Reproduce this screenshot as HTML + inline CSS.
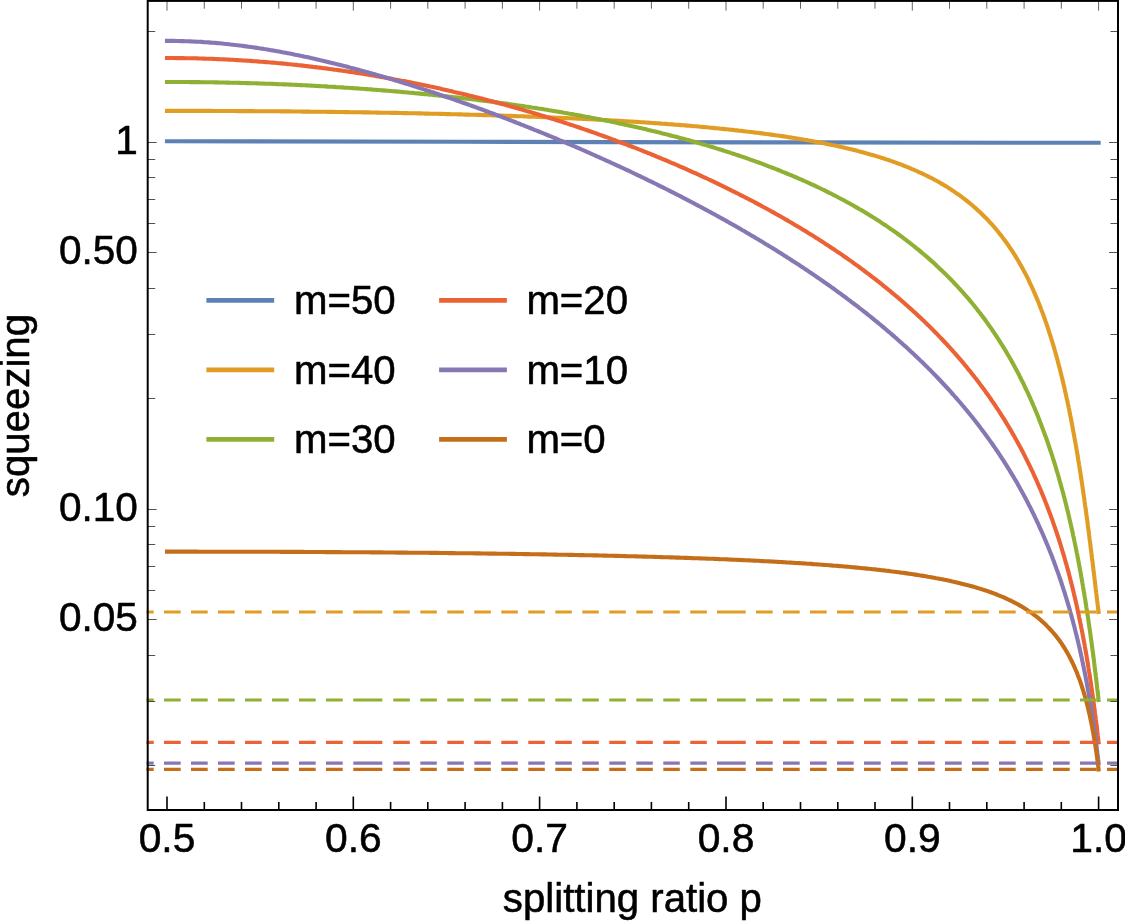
<!DOCTYPE html>
<html lang="en"><head><meta charset="utf-8"><title>squeezing vs splitting ratio p</title>
<style>html,body{margin:0;padding:0;background:#fff;overflow:hidden}svg{display:block}</style></head>
<body>
<svg width="1125" height="921" viewBox="0 0 1125 921">
<rect width="1125" height="921" fill="#fff"/>
<path d="M167.0,141.2 L460.0,141.7 L610.0,142.1 L800.0,142.4 L1098.6,142.8" stroke="#5E81B5" stroke-width="4.1" fill="none" stroke-linejoin="round" stroke-linecap="square"/>
<path d="M167.0,110.9 L169.3,110.9 L171.7,110.9 L174.0,110.9 L176.3,110.9 L178.6,110.9 L180.9,110.9 L183.2,110.9 L185.5,110.9 L187.8,110.9 L190.1,110.9 L192.4,110.9 L194.7,110.9 L197.0,110.9 L199.3,110.9 L201.6,110.9 L203.8,110.9 L206.1,110.9 L208.4,110.9 L210.6,110.9 L212.9,111.0 L215.2,111.0 L217.4,111.0 L219.7,111.0 L221.9,111.0 L224.2,111.0 L226.4,111.0 L228.6,111.0 L230.9,111.0 L233.1,111.0 L235.3,111.0 L237.5,111.1 L239.8,111.1 L242.0,111.1 L244.2,111.1 L246.4,111.1 L248.6,111.1 L250.8,111.1 L253.0,111.1 L255.2,111.2 L257.4,111.2 L259.6,111.2 L261.8,111.2 L264.0,111.2 L266.1,111.2 L268.3,111.3 L270.5,111.3 L272.7,111.3 L274.8,111.3 L277.0,111.3 L279.1,111.3 L281.3,111.4 L283.5,111.4 L285.6,111.4 L287.7,111.4 L289.9,111.4 L292.0,111.5 L294.2,111.5 L296.3,111.5 L298.4,111.5 L300.5,111.5 L302.7,111.6 L304.8,111.6 L306.9,111.6 L309.0,111.6 L311.1,111.7 L313.2,111.7 L315.3,111.7 L317.4,111.7 L319.5,111.8 L321.6,111.8 L323.7,111.8 L325.8,111.8 L327.9,111.9 L329.9,111.9 L332.0,111.9 L334.1,111.9 L336.2,112.0 L338.2,112.0 L340.3,112.0 L342.3,112.0 L344.4,112.1 L346.4,112.1 L348.5,112.1 L350.5,112.2 L352.6,112.2 L354.6,112.2 L356.6,112.3 L358.7,112.3 L360.7,112.3 L362.7,112.4 L364.7,112.4 L366.8,112.4 L368.8,112.4 L370.8,112.5 L372.8,112.5 L374.8,112.5 L376.8,112.6 L379.3,112.6 L381.8,112.7 L384.3,112.7 L386.7,112.8 L389.2,112.8 L391.7,112.9 L394.2,112.9 L396.6,112.9 L399.1,113.0 L401.5,113.0 L404.0,113.1 L406.4,113.1 L408.8,113.2 L411.3,113.2 L413.7,113.3 L416.1,113.3 L418.5,113.4 L420.9,113.4 L423.3,113.5 L425.7,113.6 L428.1,113.6 L430.5,113.7 L432.9,113.7 L435.3,113.8 L437.6,113.8 L440.0,113.9 L442.4,113.9 L444.7,114.0 L447.1,114.1 L449.4,114.1 L451.8,114.2 L454.1,114.2 L456.4,114.3 L458.8,114.4 L461.1,114.4 L463.4,114.5 L465.7,114.6 L468.0,114.6 L470.3,114.7 L472.6,114.7 L474.9,114.8 L477.2,114.9 L479.5,114.9 L481.8,115.0 L484.0,115.1 L486.3,115.1 L488.6,115.2 L490.8,115.3 L493.1,115.4 L495.3,115.4 L497.6,115.5 L499.8,115.6 L502.0,115.6 L504.3,115.7 L506.5,115.8 L508.7,115.9 L510.9,115.9 L513.1,116.0 L515.3,116.1 L517.5,116.2 L519.7,116.3 L521.9,116.3 L524.1,116.4 L526.2,116.5 L528.4,116.6 L530.6,116.7 L532.7,116.7 L534.9,116.8 L537.0,116.9 L539.2,117.0 L541.3,117.1 L543.5,117.2 L545.6,117.2 L547.7,117.3 L549.9,117.4 L552.0,117.5 L554.1,117.6 L556.2,117.7 L558.3,117.8 L560.4,117.9 L562.5,118.0 L564.6,118.1 L566.7,118.1 L568.7,118.2 L570.8,118.3 L572.9,118.4 L574.9,118.5 L577.0,118.6 L579.0,118.7 L581.1,118.8 L583.1,118.9 L585.2,119.0 L587.2,119.1 L589.2,119.2 L591.3,119.3 L593.3,119.4 L595.3,119.5 L597.3,119.6 L599.3,119.7 L601.3,119.8 L603.7,120.0 L606.1,120.1 L608.5,120.2 L610.9,120.4 L613.2,120.5 L615.6,120.6 L617.9,120.8 L620.3,120.9 L622.6,121.0 L625.0,121.2 L627.3,121.3 L629.6,121.5 L631.9,121.6 L634.2,121.8 L636.5,121.9 L638.8,122.0 L641.1,122.2 L643.4,122.3 L645.6,122.5 L647.9,122.6 L650.2,122.8 L652.4,123.0 L654.6,123.1 L656.9,123.3 L659.1,123.4 L661.3,123.6 L663.6,123.7 L665.8,123.9 L668.0,124.1 L670.2,124.2 L672.3,124.4 L674.5,124.6 L676.7,124.7 L678.9,124.9 L681.0,125.1 L683.2,125.3 L685.3,125.4 L687.5,125.6 L689.6,125.8 L691.8,126.0 L693.9,126.2 L696.0,126.3 L698.1,126.5 L700.2,126.7 L702.3,126.9 L704.4,127.1 L706.5,127.3 L708.5,127.5 L710.6,127.7 L712.7,127.9 L714.7,128.1 L716.8,128.3 L718.8,128.5 L720.9,128.7 L722.9,128.9 L724.9,129.1 L726.9,129.3 L728.9,129.5 L730.9,129.7 L732.9,129.9 L734.9,130.2 L737.2,130.4 L739.5,130.7 L741.8,130.9 L744.1,131.2 L746.4,131.5 L748.7,131.7 L750.9,132.0 L753.2,132.3 L755.4,132.6 L757.7,132.8 L759.9,133.1 L762.1,133.4 L764.3,133.7 L766.5,134.0 L768.7,134.3 L770.9,134.6 L773.1,134.9 L775.2,135.2 L777.4,135.5 L779.5,135.8 L781.7,136.1 L783.8,136.4 L785.9,136.7 L788.0,137.1 L790.2,137.4 L792.2,137.7 L794.3,138.0 L796.4,138.4 L798.5,138.7 L800.5,139.1 L802.6,139.4 L804.6,139.8 L806.7,140.1 L808.7,140.5 L810.7,140.8 L812.7,141.2 L814.7,141.6 L816.7,141.9 L818.7,142.3 L820.7,142.7 L822.7,143.1 L824.9,143.5 L827.1,144.0 L829.4,144.4 L831.6,144.9 L833.8,145.3 L835.9,145.8 L838.1,146.3 L840.3,146.8 L842.4,147.3 L844.6,147.8 L846.7,148.3 L848.8,148.8 L850.9,149.3 L853.0,149.8 L855.1,150.3 L857.2,150.8 L859.3,151.4 L861.3,151.9 L863.4,152.5 L865.4,153.0 L867.4,153.6 L869.4,154.2 L871.4,154.7 L873.4,155.3 L875.4,155.9 L877.4,156.5 L879.3,157.1 L881.3,157.7 L883.2,158.3 L885.2,159.0 L887.1,159.6 L889.0,160.2 L890.9,160.9 L893.0,161.6 L895.1,162.4 L897.2,163.2 L899.3,163.9 L901.4,164.7 L903.4,165.5 L905.5,166.3 L907.5,167.1 L909.5,167.9 L911.5,168.8 L913.5,169.6 L915.5,170.5 L917.5,171.4 L919.4,172.3 L921.4,173.2 L923.3,174.1 L925.2,175.0 L927.1,175.9 L929.0,176.9 L930.9,177.8 L932.8,178.8 L934.6,179.8 L936.5,180.8 L938.3,181.8 L940.1,182.8 L941.9,183.9 L943.7,184.9 L945.5,186.0 L947.3,187.1 L949.0,188.2 L950.8,189.3 L952.5,190.5 L954.2,191.6 L955.9,192.8 L957.6,194.0 L959.3,195.2 L961.0,196.4 L962.6,197.6 L964.3,198.9 L965.9,200.1 L967.5,201.4 L969.1,202.7 L970.7,204.0 L972.3,205.3 L973.9,206.7 L975.5,208.1 L977.0,209.5 L978.5,210.9 L980.1,212.3 L981.6,213.7 L983.1,215.2 L984.6,216.7 L986.1,218.2 L987.5,219.7 L989.0,221.3 L990.4,222.8 L991.9,224.4 L993.3,226.0 L994.7,227.7 L996.1,229.3 L997.5,231.0 L998.9,232.7 L1000.2,234.4 L1001.6,236.1 L1002.9,237.9 L1004.3,239.7 L1005.6,241.5 L1006.9,243.3 L1008.1,244.9 L1009.2,246.6 L1010.3,248.3 L1011.5,250.0 L1012.6,251.7 L1013.7,253.4 L1014.8,255.2 L1015.9,256.9 L1017.0,258.7 L1018.1,260.5 L1019.1,262.4 L1020.2,264.2 L1021.2,266.1 L1022.3,268.0 L1023.3,269.9 L1024.3,271.8 L1025.4,273.7 L1026.4,275.7 L1027.4,277.7 L1028.4,279.7 L1029.3,281.7 L1030.3,283.8 L1031.3,285.8 L1032.1,287.7 L1033.0,289.5 L1033.8,291.3 L1034.6,293.2 L1035.4,295.1 L1036.2,297.0 L1037.0,298.9 L1037.8,300.8 L1038.6,302.8 L1039.4,304.7 L1040.2,306.7 L1040.9,308.7 L1041.7,310.7 L1042.5,312.7 L1043.2,314.8 L1044.0,316.8 L1044.7,318.9 L1045.4,320.9 L1046.2,323.0 L1046.9,325.1 L1047.6,327.3 L1048.3,329.4 L1049.0,331.6 L1049.7,333.7 L1050.4,335.9 L1051.1,338.1 L1051.8,340.3 L1052.5,342.5 L1053.1,344.7 L1053.7,346.7 L1054.3,348.6 L1054.8,350.5 L1055.4,352.5 L1055.9,354.4 L1056.5,356.4 L1057.0,358.4 L1057.6,360.4 L1058.1,362.4 L1058.6,364.4 L1059.1,366.4 L1059.7,368.4 L1060.2,370.5 L1060.7,372.5 L1061.2,374.5 L1061.7,376.6 L1062.2,378.6 L1062.7,380.7 L1063.2,382.8 L1063.7,384.9 L1064.2,387.0 L1064.7,389.1 L1065.1,391.2 L1065.6,393.3 L1066.1,395.4 L1066.5,397.5 L1067.0,399.6 L1067.5,401.7 L1067.9,403.9 L1068.4,406.0 L1068.8,408.1 L1069.3,410.3 L1069.7,412.4 L1070.1,414.6 L1070.5,416.8 L1071.0,418.9 L1071.4,421.1 L1071.8,423.2 L1072.2,425.4 L1072.6,427.6 L1073.0,429.7 L1073.4,431.9 L1073.8,434.1 L1074.2,436.2 L1074.6,438.4 L1075.0,440.6 L1075.4,442.8 L1075.8,444.9 L1076.2,447.1 L1076.5,449.3 L1076.9,451.4 L1077.3,453.6 L1077.6,455.7 L1078.0,457.9 L1078.3,460.0 L1078.7,462.2 L1079.0,464.3 L1079.4,466.5 L1079.7,468.6 L1080.0,470.7 L1080.4,472.9 L1080.7,475.0 L1081.0,477.1 L1081.3,479.2 L1081.7,481.3 L1082.0,483.4 L1082.3,485.5 L1082.6,487.5 L1082.9,489.6 L1083.2,491.7 L1083.5,493.7 L1083.8,495.7 L1084.1,497.8 L1084.4,499.8 L1084.6,501.8 L1084.9,503.8 L1085.2,506.1 L1085.6,508.4 L1085.9,510.6 L1086.2,512.9 L1086.5,515.1 L1086.8,517.3 L1087.1,519.5 L1087.4,521.7 L1087.7,523.8 L1087.9,526.0 L1088.2,528.1 L1088.5,530.2 L1088.8,532.2 L1089.0,534.3 L1089.3,536.3 L1089.5,538.3 L1089.8,540.5 L1090.1,542.8 L1090.4,544.9 L1090.6,547.1 L1090.9,549.2 L1091.2,551.3 L1091.4,553.3 L1091.7,555.3 L1091.9,557.5 L1092.2,559.7 L1092.5,561.8 L1092.7,563.9 L1093.0,565.9 L1093.2,568.1 L1093.5,570.2 L1093.8,572.3 L1094.0,574.3 L1094.3,576.5 L1094.5,578.5 L1094.8,580.5 L1095.0,582.6 L1095.2,584.6 L1095.5,586.7 L1095.7,588.7 L1096.0,590.7 L1096.2,592.8 L1096.5,594.9 L1096.7,596.9 L1097.0,599.0 L1097.2,601.0 L1097.5,603.0 L1097.7,605.0 L1098.0,607.0 L1098.2,609.1 L1098.5,611.0 L1098.6,612.0" stroke="#E19C24" stroke-width="4.1" fill="none" stroke-linejoin="round" stroke-linecap="square"/>
<path d="M167.0,82.0 L169.3,82.0 L171.7,82.0 L174.0,82.0 L176.3,82.0 L178.6,82.0 L180.9,82.0 L183.2,82.0 L185.5,82.0 L187.8,82.0 L190.1,82.1 L192.4,82.1 L194.7,82.1 L197.0,82.1 L199.3,82.1 L201.6,82.2 L203.8,82.2 L206.1,82.2 L208.4,82.3 L210.6,82.3 L212.9,82.3 L215.2,82.4 L217.4,82.4 L219.7,82.5 L221.9,82.5 L224.2,82.5 L226.4,82.6 L228.6,82.6 L230.9,82.7 L233.1,82.7 L235.3,82.8 L237.5,82.8 L239.8,82.9 L242.0,83.0 L244.2,83.0 L246.4,83.1 L248.6,83.1 L250.8,83.2 L253.0,83.3 L255.2,83.3 L257.4,83.4 L259.6,83.5 L261.8,83.5 L264.0,83.6 L266.1,83.7 L268.3,83.8 L270.5,83.8 L272.7,83.9 L274.8,84.0 L277.0,84.1 L279.1,84.2 L281.3,84.3 L283.5,84.4 L285.6,84.4 L287.7,84.5 L289.9,84.6 L292.0,84.7 L294.2,84.8 L296.3,84.9 L298.4,85.0 L300.5,85.1 L302.7,85.2 L304.8,85.3 L306.9,85.4 L309.0,85.5 L311.1,85.6 L313.2,85.8 L315.3,85.9 L317.4,86.0 L319.5,86.1 L321.6,86.2 L323.7,86.3 L325.8,86.4 L327.9,86.6 L329.9,86.7 L332.0,86.8 L334.1,86.9 L336.2,87.1 L338.2,87.2 L340.3,87.3 L342.3,87.4 L344.4,87.6 L346.4,87.7 L348.5,87.8 L350.5,88.0 L352.6,88.1 L354.6,88.3 L356.6,88.4 L358.7,88.5 L360.7,88.7 L362.7,88.8 L364.7,89.0 L366.8,89.1 L368.8,89.3 L370.8,89.4 L372.8,89.6 L374.8,89.7 L376.8,89.9 L378.8,90.0 L380.8,90.2 L383.3,90.4 L385.8,90.6 L388.2,90.8 L390.7,91.0 L393.2,91.2 L395.6,91.4 L398.1,91.6 L400.5,91.8 L403.0,92.1 L405.4,92.3 L407.9,92.5 L410.3,92.7 L412.7,92.9 L415.1,93.2 L417.6,93.4 L420.0,93.6 L422.4,93.9 L424.8,94.1 L427.2,94.3 L429.6,94.6 L431.9,94.8 L434.3,95.1 L436.7,95.3 L439.1,95.6 L441.4,95.8 L443.8,96.1 L446.1,96.3 L448.5,96.6 L450.8,96.8 L453.2,97.1 L455.5,97.3 L457.8,97.6 L460.2,97.9 L462.5,98.1 L464.8,98.4 L467.1,98.7 L469.4,99.0 L471.7,99.2 L474.0,99.5 L476.3,99.8 L478.6,100.1 L480.9,100.4 L483.1,100.6 L485.4,100.9 L487.7,101.2 L489.9,101.5 L492.2,101.8 L494.4,102.1 L496.7,102.4 L498.9,102.7 L501.1,103.0 L503.4,103.3 L505.6,103.6 L507.8,103.9 L510.0,104.2 L512.2,104.6 L514.4,104.9 L516.6,105.2 L518.8,105.5 L521.0,105.8 L523.2,106.1 L525.4,106.5 L527.5,106.8 L529.7,107.1 L531.9,107.5 L534.0,107.8 L536.2,108.1 L538.3,108.5 L540.5,108.8 L542.6,109.1 L544.8,109.5 L546.9,109.8 L549.0,110.2 L551.1,110.5 L553.2,110.9 L555.3,111.2 L557.5,111.6 L559.6,111.9 L561.6,112.3 L563.7,112.7 L565.8,113.0 L567.9,113.4 L570.0,113.8 L572.0,114.1 L574.1,114.5 L576.2,114.9 L578.2,115.2 L580.3,115.6 L582.3,116.0 L584.4,116.4 L586.4,116.8 L588.4,117.1 L590.5,117.5 L592.5,117.9 L594.5,118.3 L596.5,118.7 L598.5,119.1 L600.5,119.5 L602.5,119.9 L604.5,120.3 L606.5,120.7 L608.5,121.1 L610.5,121.5 L612.4,121.9 L614.4,122.3 L616.4,122.7 L618.3,123.2 L620.7,123.7 L623.0,124.2 L625.3,124.7 L627.7,125.2 L630.0,125.7 L632.3,126.2 L634.6,126.7 L636.9,127.2 L639.2,127.8 L641.5,128.3 L643.7,128.8 L646.0,129.3 L648.3,129.9 L650.5,130.4 L652.8,131.0 L655.0,131.5 L657.3,132.1 L659.5,132.6 L661.7,133.2 L663.9,133.7 L666.1,134.3 L668.3,134.8 L670.5,135.4 L672.7,136.0 L674.9,136.5 L677.1,137.1 L679.2,137.7 L681.4,138.3 L683.6,138.8 L685.7,139.4 L687.8,140.0 L690.0,140.6 L692.1,141.2 L694.2,141.8 L696.3,142.4 L698.4,143.0 L700.5,143.6 L702.6,144.2 L704.7,144.8 L706.8,145.4 L708.9,146.1 L711.0,146.7 L713.0,147.3 L715.1,147.9 L717.1,148.6 L719.2,149.2 L721.2,149.8 L723.2,150.5 L725.2,151.1 L727.3,151.8 L729.3,152.4 L731.3,153.1 L733.3,153.7 L735.3,154.4 L737.2,155.0 L739.2,155.7 L741.2,156.4 L743.2,157.0 L745.1,157.7 L747.1,158.4 L749.0,159.1 L750.9,159.8 L752.9,160.5 L754.8,161.1 L756.7,161.8 L758.6,162.5 L760.5,163.2 L762.4,163.9 L764.3,164.6 L766.2,165.3 L768.1,166.1 L770.0,166.8 L771.8,167.5 L774.0,168.3 L776.2,169.2 L778.3,170.0 L780.5,170.9 L782.6,171.8 L784.7,172.6 L786.8,173.5 L788.9,174.4 L791.1,175.2 L793.1,176.1 L795.2,177.0 L797.3,177.9 L799.4,178.8 L801.4,179.7 L803.5,180.6 L805.5,181.5 L807.5,182.4 L809.6,183.4 L811.6,184.3 L813.6,185.2 L815.6,186.1 L817.6,187.1 L819.6,188.0 L821.5,189.0 L823.5,189.9 L825.5,190.9 L827.4,191.8 L829.4,192.8 L831.3,193.8 L833.2,194.8 L835.1,195.7 L837.0,196.7 L838.9,197.7 L840.8,198.7 L842.7,199.7 L844.6,200.7 L846.4,201.7 L848.3,202.8 L850.1,203.8 L852.0,204.8 L853.8,205.8 L855.6,206.9 L857.5,207.9 L859.3,209.0 L861.1,210.0 L862.9,211.1 L864.6,212.1 L866.4,213.2 L868.2,214.3 L869.9,215.4 L871.7,216.4 L873.4,217.5 L875.2,218.6 L876.9,219.7 L878.6,220.8 L880.3,221.9 L882.0,223.1 L883.7,224.2 L885.4,225.3 L887.1,226.4 L888.8,227.6 L890.4,228.7 L892.1,229.9 L893.7,231.0 L895.4,232.2 L897.0,233.3 L898.6,234.5 L900.5,235.9 L902.3,237.2 L904.1,238.6 L905.9,239.9 L907.7,241.3 L909.5,242.7 L911.3,244.1 L913.1,245.5 L914.9,246.9 L916.6,248.3 L918.4,249.7 L920.1,251.1 L921.8,252.6 L923.5,254.0 L925.2,255.5 L926.9,256.9 L928.6,258.4 L930.3,259.9 L932.0,261.4 L933.6,262.8 L935.2,264.3 L936.9,265.9 L938.5,267.4 L940.1,268.9 L941.7,270.4 L943.3,272.0 L944.9,273.5 L946.5,275.1 L948.0,276.6 L949.6,278.2 L951.2,279.8 L952.7,281.4 L954.2,283.0 L955.7,284.6 L957.2,286.2 L958.7,287.8 L960.2,289.4 L961.7,291.1 L963.2,292.7 L964.6,294.4 L966.1,296.1 L967.5,297.7 L969.0,299.4 L970.4,301.1 L971.8,302.8 L973.2,304.5 L974.6,306.2 L976.0,308.0 L977.4,309.7 L978.7,311.5 L980.1,313.2 L981.4,315.0 L982.8,316.7 L984.1,318.5 L985.4,320.3 L986.7,322.1 L988.0,323.9 L989.3,325.8 L990.6,327.6 L991.9,329.4 L993.1,331.3 L994.4,333.1 L995.6,335.0 L996.9,336.9 L998.1,338.8 L999.3,340.7 L1000.5,342.6 L1001.7,344.5 L1002.9,346.4 L1004.1,348.3 L1005.3,350.3 L1006.5,352.2 L1007.6,354.2 L1008.8,356.2 L1009.8,357.9 L1010.8,359.6 L1011.7,361.4 L1012.7,363.1 L1013.7,364.9 L1014.7,366.7 L1015.6,368.5 L1016.6,370.2 L1017.5,372.0 L1018.5,373.8 L1019.4,375.6 L1020.3,377.5 L1021.2,379.3 L1022.1,381.1 L1023.1,382.9 L1024.0,384.8 L1024.8,386.6 L1025.7,388.5 L1026.6,390.4 L1027.5,392.2 L1028.4,394.1 L1029.2,396.0 L1030.1,397.9 L1030.9,399.8 L1031.8,401.7 L1032.6,403.6 L1033.4,405.5 L1034.3,407.5 L1035.1,409.4 L1035.9,411.4 L1036.7,413.3 L1037.5,415.3 L1038.3,417.2 L1039.1,419.2 L1039.8,421.2 L1040.6,423.2 L1041.4,425.2 L1042.1,427.2 L1042.9,429.2 L1043.6,431.2 L1044.4,433.2 L1045.1,435.2 L1045.9,437.3 L1046.6,439.3 L1047.3,441.3 L1048.0,443.4 L1048.7,445.4 L1049.4,447.5 L1050.1,449.6 L1050.8,451.6 L1051.5,453.7 L1052.2,455.8 L1052.8,457.9 L1053.5,460.0 L1054.2,462.1 L1054.8,464.2 L1055.5,466.3 L1056.1,468.4 L1056.7,470.6 L1057.4,472.7 L1058.0,474.8 L1058.6,476.9 L1059.2,479.1 L1059.8,481.2 L1060.4,483.4 L1061.0,485.5 L1061.6,487.7 L1062.2,489.8 L1062.8,492.0 L1063.4,494.1 L1063.9,496.3 L1064.5,498.5 L1065.1,500.7 L1065.6,502.8 L1066.2,505.0 L1066.7,507.2 L1067.2,509.4 L1067.8,511.5 L1068.3,513.7 L1068.8,515.9 L1069.3,518.1 L1069.8,520.3 L1070.3,522.5 L1070.8,524.6 L1071.3,526.8 L1071.8,529.0 L1072.3,531.2 L1072.8,533.4 L1073.2,535.6 L1073.7,537.7 L1074.2,539.9 L1074.6,542.1 L1075.1,544.3 L1075.5,546.4 L1076.0,548.6 L1076.4,550.8 L1076.8,552.9 L1077.3,555.1 L1077.7,557.3 L1078.1,559.4 L1078.5,561.5 L1078.9,563.7 L1079.3,565.8 L1079.7,567.9 L1080.1,570.1 L1080.5,572.2 L1080.9,574.3 L1081.2,576.4 L1081.6,578.5 L1082.0,580.6 L1082.3,582.6 L1082.7,584.7 L1083.0,586.8 L1083.4,588.8 L1083.7,590.9 L1084.1,592.9 L1084.4,594.9 L1084.7,596.9 L1085.1,598.9 L1085.4,600.9 L1085.7,603.2 L1086.1,605.4 L1086.4,607.6 L1086.8,609.8 L1087.1,612.0 L1087.5,614.2 L1087.8,616.3 L1088.1,618.4 L1088.4,620.5 L1088.7,622.6 L1089.0,624.7 L1089.3,626.7 L1089.6,628.8 L1089.9,630.8 L1090.2,633.0 L1090.5,635.2 L1090.8,637.3 L1091.1,639.5 L1091.4,641.6 L1091.7,643.6 L1091.9,645.6 L1092.2,647.6 L1092.5,649.8 L1092.8,652.0 L1093.1,654.0 L1093.3,656.1 L1093.6,658.1 L1093.9,660.2 L1094.1,662.3 L1094.4,664.3 L1094.6,666.5 L1094.9,668.6 L1095.1,670.6 L1095.4,672.7 L1095.7,674.7 L1095.9,676.8 L1096.2,678.9 L1096.4,680.9 L1096.6,682.9 L1096.9,684.9 L1097.1,687.0 L1097.3,689.0 L1097.6,691.1 L1097.8,693.1 L1098.1,695.2 L1098.3,697.2 L1098.5,699.2 L1098.6,700.0" stroke="#8FB032" stroke-width="4.1" fill="none" stroke-linejoin="round" stroke-linecap="square"/>
<path d="M167.0,58.0 L169.3,58.0 L171.7,58.0 L174.0,58.0 L176.3,58.1 L178.6,58.1 L180.9,58.1 L183.2,58.1 L185.5,58.2 L187.8,58.2 L190.1,58.2 L192.4,58.3 L194.7,58.3 L197.0,58.4 L199.3,58.5 L201.6,58.5 L203.8,58.6 L206.1,58.7 L208.4,58.7 L210.6,58.8 L212.9,58.9 L215.2,59.0 L217.4,59.1 L219.7,59.2 L221.9,59.3 L224.2,59.4 L226.4,59.5 L228.6,59.6 L230.9,59.7 L233.1,59.8 L235.3,60.0 L237.5,60.1 L239.8,60.2 L242.0,60.4 L244.2,60.5 L246.4,60.6 L248.6,60.8 L250.8,60.9 L253.0,61.1 L255.2,61.2 L257.4,61.4 L259.6,61.6 L261.8,61.7 L264.0,61.9 L266.1,62.1 L268.3,62.3 L270.5,62.5 L272.7,62.6 L274.8,62.8 L277.0,63.0 L279.1,63.2 L281.3,63.4 L283.5,63.6 L285.6,63.8 L287.7,64.1 L289.9,64.3 L292.0,64.5 L294.2,64.7 L296.3,64.9 L298.4,65.2 L300.5,65.4 L302.7,65.6 L304.8,65.9 L306.9,66.1 L309.0,66.4 L311.1,66.6 L313.2,66.9 L315.3,67.1 L317.4,67.4 L319.5,67.6 L321.6,67.9 L323.7,68.2 L325.8,68.4 L327.9,68.7 L329.9,69.0 L332.0,69.3 L334.1,69.6 L336.2,69.8 L338.2,70.1 L340.3,70.4 L342.3,70.7 L344.4,71.0 L346.4,71.3 L348.5,71.6 L350.5,71.9 L352.6,72.2 L354.6,72.5 L356.6,72.9 L358.7,73.2 L360.7,73.5 L362.7,73.8 L364.7,74.1 L366.8,74.5 L368.8,74.8 L370.8,75.1 L372.8,75.5 L374.8,75.8 L376.8,76.2 L378.8,76.5 L380.8,76.9 L382.8,77.2 L384.8,77.6 L386.7,77.9 L388.7,78.3 L390.7,78.6 L392.7,79.0 L394.7,79.4 L396.6,79.7 L399.1,80.2 L401.5,80.7 L404.0,81.1 L406.4,81.6 L408.8,82.1 L411.3,82.6 L413.7,83.1 L416.1,83.5 L418.5,84.0 L420.9,84.5 L423.3,85.0 L425.7,85.5 L428.1,86.0 L430.5,86.6 L432.9,87.1 L435.3,87.6 L437.6,88.1 L440.0,88.6 L442.4,89.2 L444.7,89.7 L447.1,90.2 L449.4,90.8 L451.8,91.3 L454.1,91.9 L456.4,92.4 L458.8,93.0 L461.1,93.5 L463.4,94.1 L465.7,94.6 L468.0,95.2 L470.3,95.8 L472.6,96.3 L474.9,96.9 L477.2,97.5 L479.5,98.1 L481.8,98.6 L484.0,99.2 L486.3,99.8 L488.6,100.4 L490.8,101.0 L493.1,101.6 L495.3,102.2 L497.6,102.8 L499.8,103.4 L502.0,104.0 L504.3,104.6 L506.5,105.2 L508.7,105.8 L510.9,106.5 L513.1,107.1 L515.3,107.7 L517.5,108.3 L519.7,109.0 L521.9,109.6 L524.1,110.2 L526.2,110.9 L528.4,111.5 L530.6,112.1 L532.7,112.8 L534.9,113.4 L537.0,114.1 L539.2,114.7 L541.3,115.4 L543.5,116.0 L545.6,116.7 L547.7,117.4 L549.9,118.0 L552.0,118.7 L554.1,119.3 L556.2,120.0 L558.3,120.7 L560.4,121.4 L562.5,122.0 L564.6,122.7 L566.7,123.4 L568.7,124.1 L570.8,124.8 L572.9,125.4 L574.9,126.1 L577.0,126.8 L579.0,127.5 L581.1,128.2 L583.1,128.9 L585.2,129.6 L587.2,130.3 L589.2,131.0 L591.3,131.7 L593.3,132.4 L595.3,133.1 L597.3,133.8 L599.3,134.6 L601.3,135.3 L603.3,136.0 L605.3,136.7 L607.3,137.4 L609.3,138.1 L611.3,138.9 L613.2,139.6 L615.2,140.3 L617.2,141.1 L619.1,141.8 L621.1,142.5 L623.0,143.3 L625.0,144.0 L626.9,144.7 L628.8,145.5 L630.8,146.2 L632.7,147.0 L634.6,147.7 L636.5,148.4 L638.4,149.2 L640.3,149.9 L642.2,150.7 L644.1,151.5 L646.0,152.2 L647.9,153.0 L649.8,153.7 L651.7,154.5 L653.5,155.2 L655.4,156.0 L657.3,156.8 L659.1,157.5 L661.0,158.3 L662.8,159.1 L665.0,160.0 L667.2,160.9 L669.4,161.9 L671.6,162.8 L673.8,163.7 L676.0,164.7 L678.2,165.6 L680.3,166.6 L682.5,167.5 L684.6,168.4 L686.8,169.4 L688.9,170.3 L691.0,171.3 L693.2,172.3 L695.3,173.2 L697.4,174.2 L699.5,175.1 L701.6,176.1 L703.7,177.1 L705.8,178.0 L707.9,179.0 L709.9,180.0 L712.0,180.9 L714.0,181.9 L716.1,182.9 L718.1,183.9 L720.2,184.9 L722.2,185.8 L724.2,186.8 L726.3,187.8 L728.3,188.8 L730.3,189.8 L732.3,190.8 L734.3,191.8 L736.3,192.8 L738.2,193.8 L740.2,194.8 L742.2,195.8 L744.1,196.8 L746.1,197.8 L748.0,198.8 L750.0,199.8 L751.9,200.8 L753.8,201.8 L755.8,202.9 L757.7,203.9 L759.6,204.9 L761.5,205.9 L763.4,207.0 L765.3,208.0 L767.2,209.0 L769.0,210.0 L770.9,211.1 L772.8,212.1 L774.6,213.1 L776.5,214.2 L778.3,215.2 L780.2,216.3 L782.0,217.3 L783.8,218.3 L785.6,219.4 L787.4,220.4 L789.2,221.5 L791.1,222.5 L792.8,223.6 L794.6,224.7 L796.4,225.7 L798.2,226.8 L800.0,227.8 L801.7,228.9 L803.5,230.0 L805.2,231.0 L807.0,232.1 L808.7,233.2 L810.4,234.2 L812.2,235.3 L813.9,236.4 L815.6,237.5 L817.3,238.6 L819.0,239.6 L820.7,240.7 L822.4,241.8 L824.1,242.9 L826.0,244.2 L828.0,245.4 L829.9,246.7 L831.8,248.0 L833.8,249.3 L835.7,250.6 L837.6,251.9 L839.5,253.1 L841.4,254.4 L843.2,255.7 L845.1,257.0 L847.0,258.3 L848.8,259.6 L850.7,260.9 L852.5,262.2 L854.3,263.6 L856.2,264.9 L858.0,266.2 L859.8,267.5 L861.6,268.8 L863.4,270.2 L865.1,271.5 L866.9,272.8 L868.7,274.1 L870.4,275.5 L872.2,276.8 L873.9,278.2 L875.7,279.5 L877.4,280.8 L879.1,282.2 L880.8,283.5 L882.5,284.9 L884.2,286.3 L885.9,287.6 L887.6,289.0 L889.2,290.3 L890.9,291.7 L892.5,293.1 L894.2,294.5 L895.8,295.8 L897.5,297.2 L899.1,298.6 L900.7,300.0 L902.3,301.4 L903.9,302.8 L905.5,304.2 L907.1,305.6 L908.6,307.0 L910.2,308.4 L911.8,309.8 L913.3,311.2 L914.9,312.6 L916.4,314.0 L917.9,315.4 L919.4,316.8 L921.0,318.3 L922.5,319.7 L924.0,321.1 L925.4,322.6 L926.9,324.0 L928.4,325.4 L929.9,326.9 L931.3,328.3 L932.8,329.8 L934.2,331.2 L935.7,332.7 L937.1,334.1 L938.5,335.6 L939.9,337.1 L941.3,338.5 L942.7,340.0 L944.1,341.5 L945.5,343.0 L946.9,344.4 L948.2,345.9 L949.6,347.4 L951.0,348.9 L952.3,350.4 L953.6,351.9 L955.0,353.4 L956.3,354.9 L957.6,356.4 L958.9,357.9 L960.4,359.7 L961.9,361.4 L963.4,363.1 L964.8,364.9 L966.3,366.6 L967.7,368.4 L969.1,370.2 L970.6,371.9 L972.0,373.7 L973.4,375.5 L974.8,377.3 L976.2,379.0 L977.5,380.8 L978.9,382.6 L980.2,384.4 L981.6,386.2 L982.9,388.0 L984.3,389.8 L985.6,391.7 L986.9,393.5 L988.2,395.3 L989.5,397.1 L990.8,399.0 L992.0,400.8 L993.3,402.7 L994.6,404.5 L995.8,406.4 L997.0,408.3 L998.3,410.1 L999.5,412.0 L1000.7,413.9 L1001.9,415.8 L1003.1,417.7 L1004.3,419.5 L1005.4,421.4 L1006.6,423.4 L1007.8,425.3 L1008.9,427.2 L1010.1,429.1 L1011.2,431.0 L1012.3,433.0 L1013.4,434.9 L1014.5,436.8 L1015.6,438.8 L1016.7,440.7 L1017.8,442.7 L1018.9,444.7 L1019.9,446.6 L1021.0,448.6 L1022.0,450.6 L1023.1,452.6 L1024.1,454.6 L1025.1,456.6 L1026.1,458.6 L1027.1,460.6 L1028.1,462.6 L1029.1,464.6 L1030.1,466.6 L1031.0,468.7 L1032.0,470.7 L1033.0,472.7 L1033.9,474.8 L1034.8,476.8 L1035.8,478.9 L1036.7,480.9 L1037.6,483.0 L1038.5,485.1 L1039.4,487.2 L1040.3,489.2 L1041.2,491.3 L1042.0,493.4 L1042.9,495.5 L1043.8,497.6 L1044.6,499.7 L1045.4,501.8 L1046.3,504.0 L1047.1,506.1 L1047.9,508.2 L1048.7,510.3 L1049.5,512.5 L1050.3,514.6 L1051.1,516.7 L1051.9,518.9 L1052.6,520.8 L1053.2,522.7 L1053.9,524.6 L1054.5,526.4 L1055.2,528.3 L1055.8,530.2 L1056.5,532.1 L1057.1,534.1 L1057.7,536.0 L1058.4,537.9 L1059.0,539.8 L1059.6,541.7 L1060.2,543.6 L1060.8,545.5 L1061.4,547.5 L1062.0,549.4 L1062.5,551.3 L1063.1,553.2 L1063.7,555.2 L1064.3,557.1 L1064.8,559.0 L1065.4,561.0 L1065.9,562.9 L1066.5,564.8 L1067.0,566.8 L1067.5,568.7 L1068.1,570.7 L1068.6,572.6 L1069.1,574.5 L1069.6,576.5 L1070.1,578.4 L1070.6,580.4 L1071.1,582.3 L1071.6,584.3 L1072.1,586.2 L1072.6,588.4 L1073.2,590.6 L1073.7,592.9 L1074.2,595.1 L1074.8,597.3 L1075.3,599.5 L1075.8,601.7 L1076.3,603.9 L1076.8,606.1 L1077.3,608.3 L1077.7,610.5 L1078.2,612.7 L1078.7,614.9 L1079.1,617.1 L1079.6,619.2 L1080.0,621.4 L1080.5,623.6 L1080.9,625.7 L1081.3,627.9 L1081.8,630.0 L1082.2,632.1 L1082.6,634.3 L1083.0,636.4 L1083.4,638.5 L1083.8,640.6 L1084.2,642.7 L1084.6,644.8 L1084.9,646.8 L1085.3,648.9 L1085.7,650.9 L1086.0,653.0 L1086.4,655.0 L1086.7,657.0 L1087.0,659.0 L1087.4,661.0 L1087.7,663.2 L1088.1,665.4 L1088.4,667.5 L1088.8,669.7 L1089.1,671.8 L1089.5,673.9 L1089.8,676.0 L1090.1,678.1 L1090.4,680.1 L1090.7,682.1 L1091.0,684.1 L1091.3,686.2 L1091.6,688.4 L1091.9,690.5 L1092.2,692.5 L1092.5,694.6 L1092.8,696.6 L1093.1,698.7 L1093.4,700.8 L1093.7,702.9 L1093.9,704.9 L1094.2,707.0 L1094.5,709.1 L1094.8,711.1 L1095.0,713.2 L1095.3,715.2 L1095.6,717.3 L1095.8,719.3 L1096.1,721.4 L1096.4,723.5 L1096.6,725.6 L1096.9,727.6 L1097.1,729.6 L1097.3,731.7 L1097.6,733.7 L1097.8,735.7 L1098.1,737.8 L1098.3,739.8 L1098.5,741.8 L1098.6,742.4" stroke="#EB6235" stroke-width="4.1" fill="none" stroke-linejoin="round" stroke-linecap="square"/>
<path d="M167.0,40.9 L169.3,40.9 L171.7,40.9 L174.0,40.9 L176.3,41.0 L178.6,41.0 L180.9,41.1 L183.2,41.1 L185.5,41.2 L187.8,41.3 L190.1,41.4 L192.4,41.5 L194.7,41.6 L197.0,41.7 L199.3,41.8 L201.6,41.9 L203.8,42.1 L206.1,42.2 L208.4,42.4 L210.6,42.6 L212.9,42.8 L215.2,42.9 L217.4,43.1 L219.7,43.3 L221.9,43.5 L224.2,43.8 L226.4,44.0 L228.6,44.2 L230.9,44.5 L233.1,44.7 L235.3,45.0 L237.5,45.2 L239.8,45.5 L242.0,45.8 L244.2,46.1 L246.4,46.4 L248.6,46.7 L250.8,47.0 L253.0,47.3 L255.2,47.6 L257.4,47.9 L259.6,48.3 L261.8,48.6 L264.0,49.0 L266.1,49.3 L268.3,49.7 L270.5,50.1 L272.7,50.4 L274.8,50.8 L277.0,51.2 L279.1,51.6 L281.3,52.0 L283.5,52.4 L285.6,52.8 L287.7,53.2 L289.9,53.6 L292.0,54.0 L294.2,54.5 L296.3,54.9 L298.4,55.3 L300.5,55.8 L302.7,56.2 L304.8,56.7 L306.9,57.1 L309.0,57.6 L311.1,58.1 L313.2,58.5 L315.3,59.0 L317.4,59.5 L319.5,60.0 L321.6,60.4 L323.7,60.9 L325.8,61.4 L327.9,61.9 L329.9,62.4 L332.0,62.9 L334.1,63.4 L336.2,64.0 L338.2,64.5 L340.3,65.0 L342.3,65.5 L344.4,66.1 L346.4,66.6 L348.5,67.1 L350.5,67.7 L352.6,68.2 L354.6,68.7 L356.6,69.3 L358.7,69.8 L360.7,70.4 L362.7,70.9 L364.7,71.5 L366.8,72.1 L368.8,72.6 L370.8,73.2 L372.8,73.8 L374.8,74.3 L376.8,74.9 L378.8,75.5 L380.8,76.1 L382.8,76.6 L384.8,77.2 L386.7,77.8 L388.7,78.4 L390.7,79.0 L392.7,79.6 L394.7,80.2 L396.6,80.8 L398.6,81.4 L400.5,82.0 L402.5,82.6 L404.5,83.2 L406.4,83.8 L408.4,84.4 L410.3,85.0 L412.2,85.6 L414.2,86.3 L416.1,86.9 L418.0,87.5 L420.0,88.1 L421.9,88.7 L423.8,89.4 L425.7,90.0 L427.6,90.6 L429.6,91.3 L431.5,91.9 L433.4,92.5 L435.3,93.2 L437.2,93.8 L439.5,94.6 L441.9,95.4 L444.3,96.2 L446.6,97.0 L449.0,97.8 L451.3,98.6 L453.6,99.4 L456.0,100.2 L458.3,101.0 L460.6,101.9 L462.9,102.7 L465.3,103.5 L467.6,104.3 L469.9,105.1 L472.2,106.0 L474.5,106.8 L476.7,107.6 L479.0,108.5 L481.3,109.3 L483.6,110.1 L485.8,111.0 L488.1,111.8 L490.4,112.7 L492.6,113.5 L494.9,114.3 L497.1,115.2 L499.3,116.0 L501.6,116.9 L503.8,117.7 L506.0,118.6 L508.2,119.4 L510.5,120.3 L512.7,121.1 L514.9,122.0 L517.1,122.9 L519.3,123.7 L521.4,124.6 L523.6,125.4 L525.8,126.3 L528.0,127.2 L530.1,128.0 L532.3,128.9 L534.5,129.8 L536.6,130.6 L538.8,131.5 L540.9,132.4 L543.0,133.2 L545.2,134.1 L547.3,135.0 L549.4,135.9 L551.5,136.7 L553.7,137.6 L555.8,138.5 L557.9,139.4 L560.0,140.3 L562.1,141.1 L564.2,142.0 L566.2,142.9 L568.3,143.8 L570.4,144.7 L572.5,145.6 L574.5,146.4 L576.6,147.3 L578.6,148.2 L580.7,149.1 L582.7,150.0 L584.8,150.9 L586.8,151.8 L588.8,152.7 L590.9,153.6 L592.9,154.5 L594.9,155.4 L596.9,156.3 L598.9,157.2 L600.9,158.1 L602.9,159.0 L604.9,159.9 L606.9,160.8 L608.9,161.7 L610.9,162.6 L612.8,163.5 L614.8,164.4 L616.8,165.3 L618.7,166.2 L620.7,167.1 L622.6,168.0 L624.6,168.9 L626.5,169.8 L628.4,170.7 L630.4,171.6 L632.3,172.5 L634.2,173.5 L636.1,174.4 L638.0,175.3 L639.9,176.2 L641.8,177.1 L643.7,178.0 L645.6,178.9 L647.5,179.9 L649.4,180.8 L651.3,181.7 L653.2,182.6 L655.0,183.5 L656.9,184.4 L658.7,185.4 L660.6,186.3 L662.4,187.2 L664.3,188.1 L666.1,189.0 L668.0,190.0 L669.8,190.9 L671.6,191.8 L673.4,192.7 L675.3,193.7 L677.1,194.6 L678.9,195.5 L680.7,196.4 L682.5,197.4 L684.3,198.3 L686.1,199.2 L687.8,200.2 L689.6,201.1 L691.4,202.0 L693.5,203.1 L695.6,204.2 L697.7,205.4 L699.8,206.5 L701.9,207.6 L704.0,208.7 L706.1,209.9 L708.2,211.0 L710.3,212.1 L712.3,213.2 L714.4,214.3 L716.4,215.5 L718.5,216.6 L720.5,217.7 L722.6,218.9 L724.6,220.0 L726.6,221.1 L728.6,222.2 L730.6,223.4 L732.6,224.5 L734.6,225.6 L736.6,226.8 L738.6,227.9 L740.5,229.0 L742.5,230.2 L744.5,231.3 L746.4,232.5 L748.4,233.6 L750.3,234.7 L752.2,235.9 L754.2,237.0 L756.1,238.2 L758.0,239.3 L759.9,240.4 L761.8,241.6 L763.7,242.7 L765.6,243.9 L767.5,245.0 L769.3,246.2 L771.2,247.3 L773.1,248.5 L774.9,249.6 L776.8,250.8 L778.6,251.9 L780.5,253.1 L782.3,254.2 L784.1,255.4 L785.9,256.5 L787.7,257.7 L789.6,258.8 L791.3,260.0 L793.1,261.2 L794.9,262.3 L796.7,263.5 L798.5,264.6 L800.3,265.8 L802.0,267.0 L803.8,268.1 L805.5,269.3 L807.3,270.5 L809.0,271.6 L810.7,272.8 L812.5,274.0 L814.2,275.1 L815.9,276.3 L817.6,277.5 L819.3,278.6 L821.0,279.8 L822.7,281.0 L824.3,282.2 L826.0,283.3 L827.7,284.5 L829.4,285.7 L831.0,286.9 L832.7,288.0 L834.3,289.2 L835.9,290.4 L837.6,291.6 L839.2,292.8 L840.8,293.9 L842.4,295.1 L844.3,296.5 L846.2,297.9 L848.0,299.3 L849.9,300.7 L851.7,302.1 L853.6,303.5 L855.4,304.8 L857.2,306.2 L859.0,307.6 L860.8,309.0 L862.6,310.4 L864.4,311.8 L866.2,313.2 L867.9,314.6 L869.7,316.0 L871.4,317.4 L873.2,318.9 L874.9,320.3 L876.7,321.7 L878.4,323.1 L880.1,324.5 L881.8,325.9 L883.5,327.3 L885.2,328.7 L886.9,330.2 L888.5,331.6 L890.2,333.0 L891.8,334.4 L893.5,335.9 L895.1,337.3 L896.8,338.7 L898.4,340.2 L900.0,341.6 L901.6,343.0 L903.2,344.5 L904.8,345.9 L906.4,347.3 L908.0,348.8 L909.5,350.2 L911.1,351.7 L912.7,353.1 L914.2,354.6 L915.7,356.0 L917.3,357.5 L918.8,358.9 L920.3,360.4 L921.8,361.8 L923.3,363.3 L924.8,364.8 L926.3,366.2 L927.8,367.7 L929.2,369.2 L930.7,370.6 L932.2,372.1 L933.6,373.6 L935.0,375.1 L936.5,376.5 L937.9,378.0 L939.3,379.5 L940.7,381.0 L942.1,382.5 L943.5,384.0 L944.9,385.5 L946.3,387.0 L947.7,388.5 L949.0,389.9 L950.4,391.4 L951.7,393.0 L953.1,394.5 L954.4,396.0 L955.7,397.5 L957.1,399.0 L958.4,400.5 L959.7,402.0 L961.2,403.8 L962.6,405.5 L964.1,407.2 L965.5,409.0 L967.0,410.7 L968.4,412.5 L969.9,414.2 L971.3,416.0 L972.7,417.7 L974.1,419.5 L975.5,421.3 L976.8,423.0 L978.2,424.8 L979.6,426.6 L980.9,428.4 L982.3,430.2 L983.6,431.9 L984.9,433.7 L986.2,435.5 L987.5,437.3 L988.8,439.1 L990.1,440.9 L991.4,442.7 L992.7,444.5 L993.9,446.3 L995.2,448.2 L996.4,450.0 L997.7,451.8 L998.9,453.6 L1000.1,455.5 L1001.3,457.3 L1002.5,459.1 L1003.7,461.0 L1004.9,462.8 L1006.0,464.7 L1007.2,466.5 L1008.3,468.4 L1009.5,470.2 L1010.6,472.1 L1011.7,473.9 L1012.9,475.8 L1014.0,477.7 L1015.1,479.6 L1016.2,481.4 L1017.3,483.3 L1018.3,485.2 L1019.4,487.1 L1020.4,489.0 L1021.5,490.9 L1022.5,492.8 L1023.6,494.7 L1024.6,496.6 L1025.6,498.5 L1026.6,500.4 L1027.6,502.3 L1028.6,504.3 L1029.6,506.2 L1030.6,508.1 L1031.5,510.0 L1032.5,512.0 L1033.4,513.9 L1034.4,515.9 L1035.3,517.8 L1036.2,519.7 L1037.1,521.7 L1038.1,523.6 L1038.9,525.6 L1039.8,527.6 L1040.7,529.5 L1041.6,531.5 L1042.5,533.5 L1043.3,535.4 L1044.2,537.4 L1045.0,539.4 L1045.9,541.4 L1046.7,543.4 L1047.5,545.3 L1048.3,547.3 L1049.1,549.3 L1049.9,551.3 L1050.7,553.3 L1051.5,555.3 L1052.3,557.3 L1053.0,559.3 L1053.8,561.3 L1054.5,563.3 L1055.3,565.4 L1056.0,567.4 L1056.7,569.4 L1057.5,571.4 L1058.2,573.4 L1058.9,575.4 L1059.6,577.5 L1060.3,579.5 L1061.0,581.5 L1061.6,583.5 L1062.3,585.6 L1063.0,587.6 L1063.6,589.6 L1064.3,591.7 L1064.9,593.7 L1065.5,595.7 L1066.2,597.8 L1066.8,599.8 L1067.4,601.8 L1068.0,603.8 L1068.6,605.9 L1069.2,607.9 L1069.8,609.9 L1070.3,612.0 L1070.9,614.0 L1071.5,616.0 L1072.0,618.1 L1072.6,620.1 L1073.1,622.1 L1073.6,624.1 L1074.2,626.1 L1074.7,628.2 L1075.2,630.2 L1075.7,632.2 L1076.2,634.2 L1076.7,636.2 L1077.2,638.2 L1077.7,640.2 L1078.2,642.2 L1078.6,644.2 L1079.1,646.2 L1079.5,648.1 L1080.0,650.1 L1080.4,652.1 L1080.9,654.0 L1081.3,656.0 L1081.8,658.2 L1082.2,660.4 L1082.7,662.6 L1083.1,664.7 L1083.6,666.9 L1084.0,669.0 L1084.5,671.2 L1084.9,673.3 L1085.3,675.4 L1085.7,677.5 L1086.1,679.6 L1086.5,681.6 L1086.9,683.7 L1087.2,685.7 L1087.6,687.8 L1088.0,689.8 L1088.3,691.8 L1088.7,693.7 L1089.1,695.9 L1089.4,698.1 L1089.8,700.2 L1090.1,702.3 L1090.5,704.4 L1090.8,706.4 L1091.1,708.5 L1091.5,710.5 L1091.8,712.6 L1092.1,714.7 L1092.4,716.8 L1092.8,718.9 L1093.1,720.9 L1093.4,723.1 L1093.7,725.2 L1094.0,727.2 L1094.3,729.2 L1094.6,731.3 L1094.8,733.4 L1095.1,735.5 L1095.4,737.5 L1095.7,739.7 L1096.0,741.7 L1096.2,743.7 L1096.5,745.8 L1096.7,747.9 L1097.0,749.9 L1097.3,751.9 L1097.5,754.0 L1097.8,756.0 L1098.0,758.0 L1098.2,760.0 L1098.5,762.0 L1098.6,763.2" stroke="#8778B3" stroke-width="4.1" fill="none" stroke-linejoin="round" stroke-linecap="square"/>
<path d="M167.0,551.6 L169.3,551.6 L171.7,551.6 L174.0,551.6 L176.3,551.6 L178.6,551.6 L180.9,551.6 L183.2,551.6 L185.5,551.6 L187.8,551.6 L190.1,551.6 L192.4,551.6 L194.7,551.6 L197.0,551.6 L199.3,551.7 L201.6,551.7 L203.8,551.7 L206.1,551.7 L208.4,551.7 L210.6,551.7 L212.9,551.7 L215.2,551.7 L217.4,551.7 L219.7,551.7 L221.9,551.7 L224.2,551.7 L226.4,551.7 L228.6,551.7 L230.9,551.7 L233.1,551.7 L235.3,551.7 L237.5,551.7 L239.8,551.7 L242.0,551.7 L244.2,551.7 L246.4,551.7 L248.6,551.7 L250.8,551.7 L253.0,551.8 L255.2,551.8 L257.4,551.8 L259.6,551.8 L261.8,551.8 L264.0,551.8 L266.1,551.8 L268.3,551.8 L270.5,551.8 L272.7,551.8 L274.8,551.8 L277.0,551.8 L279.1,551.8 L281.3,551.9 L283.5,551.9 L285.6,551.9 L287.7,551.9 L289.9,551.9 L292.0,551.9 L294.2,551.9 L296.3,551.9 L298.4,551.9 L300.5,551.9 L302.7,551.9 L304.8,552.0 L306.9,552.0 L309.0,552.0 L311.1,552.0 L313.2,552.0 L315.3,552.0 L317.4,552.0 L319.5,552.0 L321.6,552.0 L323.7,552.0 L325.8,552.1 L327.9,552.1 L329.9,552.1 L332.0,552.1 L334.1,552.1 L336.2,552.1 L338.2,552.1 L340.3,552.1 L342.3,552.2 L344.4,552.2 L346.4,552.2 L348.5,552.2 L350.5,552.2 L352.6,552.2 L354.6,552.2 L356.6,552.3 L358.7,552.3 L360.7,552.3 L362.7,552.3 L364.7,552.3 L366.8,552.3 L368.8,552.3 L370.8,552.4 L372.8,552.4 L374.8,552.4 L376.8,552.4 L379.3,552.4 L381.8,552.4 L384.3,552.5 L386.7,552.5 L389.2,552.5 L391.7,552.5 L394.2,552.5 L396.6,552.6 L399.1,552.6 L401.5,552.6 L404.0,552.6 L406.4,552.6 L408.8,552.7 L411.3,552.7 L413.7,552.7 L416.1,552.7 L418.5,552.8 L420.9,552.8 L423.3,552.8 L425.7,552.8 L428.1,552.8 L430.5,552.9 L432.9,552.9 L435.3,552.9 L437.6,552.9 L440.0,553.0 L442.4,553.0 L444.7,553.0 L447.1,553.0 L449.4,553.1 L451.8,553.1 L454.1,553.1 L456.4,553.2 L458.8,553.2 L461.1,553.2 L463.4,553.2 L465.7,553.3 L468.0,553.3 L470.3,553.3 L472.6,553.3 L474.9,553.4 L477.2,553.4 L479.5,553.4 L481.8,553.5 L484.0,553.5 L486.3,553.5 L488.6,553.6 L490.8,553.6 L493.1,553.6 L495.3,553.6 L497.6,553.7 L499.8,553.7 L502.0,553.7 L504.3,553.8 L506.5,553.8 L508.7,553.8 L510.9,553.9 L513.1,553.9 L515.3,553.9 L517.5,554.0 L519.7,554.0 L521.9,554.0 L524.1,554.1 L526.2,554.1 L528.4,554.1 L530.6,554.2 L532.7,554.2 L534.9,554.2 L537.0,554.3 L539.2,554.3 L541.3,554.4 L543.5,554.4 L545.6,554.4 L547.7,554.5 L549.9,554.5 L552.0,554.5 L554.1,554.6 L556.2,554.6 L558.3,554.7 L560.4,554.7 L562.5,554.7 L564.6,554.8 L566.7,554.8 L568.7,554.9 L570.8,554.9 L572.9,554.9 L574.9,555.0 L577.0,555.0 L579.0,555.1 L581.1,555.1 L583.1,555.1 L585.2,555.2 L587.2,555.2 L589.2,555.3 L591.3,555.3 L593.3,555.4 L595.3,555.4 L597.3,555.4 L599.3,555.5 L601.3,555.5 L603.7,555.6 L606.1,555.6 L608.5,555.7 L610.9,555.8 L613.2,555.8 L615.6,555.9 L617.9,555.9 L620.3,556.0 L622.6,556.0 L625.0,556.1 L627.3,556.2 L629.6,556.2 L631.9,556.3 L634.2,556.3 L636.5,556.4 L638.8,556.5 L641.1,556.5 L643.4,556.6 L645.6,556.6 L647.9,556.7 L650.2,556.8 L652.4,556.8 L654.6,556.9 L656.9,557.0 L659.1,557.0 L661.3,557.1 L663.6,557.2 L665.8,557.2 L668.0,557.3 L670.2,557.4 L672.3,557.4 L674.5,557.5 L676.7,557.6 L678.9,557.6 L681.0,557.7 L683.2,557.8 L685.3,557.9 L687.5,557.9 L689.6,558.0 L691.8,558.1 L693.9,558.2 L696.0,558.2 L698.1,558.3 L700.2,558.4 L702.3,558.5 L704.4,558.5 L706.5,558.6 L708.5,558.7 L710.6,558.8 L712.7,558.8 L714.7,558.9 L716.8,559.0 L718.8,559.1 L720.9,559.2 L722.9,559.3 L724.9,559.3 L726.9,559.4 L728.9,559.5 L730.9,559.6 L733.3,559.7 L735.6,559.8 L737.9,559.9 L740.2,560.0 L742.5,560.1 L744.8,560.2 L747.1,560.3 L749.3,560.4 L751.6,560.5 L753.8,560.6 L756.1,560.7 L758.3,560.8 L760.5,561.0 L762.7,561.1 L765.0,561.2 L767.2,561.3 L769.3,561.4 L771.5,561.5 L773.7,561.6 L775.9,561.8 L778.0,561.9 L780.2,562.0 L782.3,562.1 L784.4,562.2 L786.5,562.4 L788.6,562.5 L790.8,562.6 L792.8,562.7 L794.9,562.9 L797.0,563.0 L799.1,563.1 L801.1,563.3 L803.2,563.4 L805.2,563.5 L807.3,563.7 L809.3,563.8 L811.3,563.9 L813.3,564.1 L815.3,564.2 L817.6,564.4 L819.9,564.5 L822.1,564.7 L824.3,564.9 L826.6,565.0 L828.8,565.2 L831.0,565.4 L833.2,565.6 L835.4,565.7 L837.6,565.9 L839.7,566.1 L841.9,566.3 L844.0,566.5 L846.2,566.6 L848.3,566.8 L850.4,567.0 L852.5,567.2 L854.6,567.4 L856.7,567.6 L858.7,567.8 L860.8,568.0 L862.9,568.2 L864.9,568.4 L866.9,568.6 L868.9,568.8 L870.9,569.0 L872.9,569.2 L875.2,569.4 L877.4,569.7 L879.6,569.9 L881.8,570.2 L884.0,570.4 L886.1,570.7 L888.3,570.9 L890.4,571.2 L892.5,571.5 L894.7,571.7 L896.8,572.0 L898.9,572.3 L900.9,572.6 L903.0,572.8 L905.0,573.1 L907.1,573.4 L909.1,573.7 L911.1,574.0 L913.1,574.3 L915.1,574.6 L917.3,574.9 L919.4,575.3 L921.6,575.6 L923.7,575.9 L925.9,576.3 L928.0,576.7 L930.1,577.0 L932.2,577.4 L934.2,577.8 L936.3,578.2 L938.3,578.5 L940.3,578.9 L942.3,579.3 L944.3,579.7 L946.3,580.1 L948.2,580.5 L950.4,581.0 L952.5,581.5 L954.6,581.9 L956.7,582.4 L958.7,582.9 L960.8,583.4 L962.8,583.9 L964.8,584.4 L966.8,584.9 L968.8,585.5 L970.7,586.0 L972.7,586.5 L974.8,587.1 L976.8,587.7 L978.9,588.4 L980.9,589.0 L982.9,589.6 L984.9,590.3 L986.9,590.9 L988.8,591.6 L990.8,592.3 L992.7,593.0 L994.6,593.7 L996.6,594.5 L998.6,595.3 L1000.5,596.1 L1002.5,596.9 L1004.4,597.7 L1006.3,598.6 L1008.2,599.5 L1010.1,600.3 L1011.9,601.2 L1013.7,602.2 L1015.5,603.1 L1017.3,604.0 L1019.1,605.1 L1021.0,606.1 L1022.8,607.2 L1024.6,608.3 L1026.4,609.4 L1028.1,610.6 L1029.8,611.7 L1031.5,612.9 L1033.2,614.1 L1034.8,615.4 L1036.5,616.6 L1038.1,617.9 L1039.6,619.2 L1041.2,620.5 L1042.7,621.9 L1044.2,623.2 L1045.7,624.6 L1047.1,626.1 L1048.5,627.5 L1049.9,629.0 L1051.3,630.5 L1052.6,632.0 L1054.0,633.6 L1055.3,635.1 L1056.6,636.8 L1057.8,638.4 L1059.1,640.0 L1060.3,641.7 L1061.5,643.4 L1062.6,645.2 L1063.8,647.0 L1064.9,648.7 L1066.0,650.6 L1067.1,652.4 L1068.1,654.3 L1069.1,656.1 L1070.0,657.8 L1071.0,659.7 L1071.9,661.5 L1072.8,663.3 L1073.6,665.2 L1074.5,667.1 L1075.3,669.0 L1076.2,671.0 L1077.0,672.9 L1077.7,674.9 L1078.5,676.9 L1079.3,678.9 L1080.0,680.9 L1080.7,682.9 L1081.4,685.0 L1082.0,686.9 L1082.6,688.8 L1083.2,690.7 L1083.8,692.7 L1084.4,694.6 L1085.0,696.5 L1085.5,698.5 L1086.1,700.5 L1086.6,702.4 L1087.1,704.4 L1087.6,706.3 L1088.1,708.3 L1088.5,710.2 L1089.0,712.3 L1089.5,714.4 L1090.0,716.5 L1090.4,718.6 L1090.8,720.7 L1091.3,722.7 L1091.7,724.8 L1092.1,726.8 L1092.4,728.8 L1092.8,730.9 L1093.2,732.9 L1093.6,735.0 L1093.9,737.0 L1094.3,739.1 L1094.6,741.1 L1094.9,743.1 L1095.3,745.2 L1095.6,747.2 L1095.9,749.2 L1096.2,751.3 L1096.5,753.4 L1096.8,755.4 L1097.1,757.4 L1097.3,759.4 L1097.6,761.4 L1097.9,763.5 L1098.1,765.5 L1098.4,767.5 L1098.6,769.4" stroke="#C56E1A" stroke-width="4.1" fill="none" stroke-linejoin="round" stroke-linecap="square"/>
<path d="M146.5,612.0H153.7 M164.0,612.0H180.7 M191.0,612.0H207.7 M218.0,612.0H234.7 M245.0,612.0H261.7 M272.0,612.0H288.7 M299.0,612.0H315.7 M326.0,612.0H342.7 M353.3,612.0H382.3 M393.3,612.0H409.8 M420.3,612.0H436.8 M447.3,612.0H463.8 M474.3,612.0H490.8 M501.3,612.0H517.8 M528.3,612.0H544.8 M555.3,612.0H571.8 M582.3,612.0H598.8 M609.3,612.0H625.8 M636.3,612.0H652.8 M663.3,612.0H679.8 M690.3,612.0H706.8 M717.0,612.0H745.7 M756.0,612.0H772.7 M783.0,612.0H799.7 M810.0,612.0H826.7 M837.0,612.0H853.7 M864.0,612.0H880.7 M891.0,612.0H907.7 M918.0,612.0H934.7 M945.0,612.0H961.7 M972.0,612.0H988.7 M999.0,612.0H1015.7 M1026.0,612.0H1042.7 M1053.0,612.0H1069.7 M1080.0,612.0H1096.7 M1107.0,612.0H1118.0" stroke="#E19C24" stroke-width="3.2" fill="none"/>
<path d="M146.5,700.0H153.7 M164.0,700.0H180.7 M191.0,700.0H207.7 M218.0,700.0H234.7 M245.0,700.0H261.7 M272.0,700.0H288.7 M299.0,700.0H315.7 M326.0,700.0H342.7 M353.3,700.0H382.3 M393.3,700.0H409.8 M420.3,700.0H436.8 M447.3,700.0H463.8 M474.3,700.0H490.8 M501.3,700.0H517.8 M528.3,700.0H544.8 M555.3,700.0H571.8 M582.3,700.0H598.8 M609.3,700.0H625.8 M636.3,700.0H652.8 M663.3,700.0H679.8 M690.3,700.0H706.8 M717.0,700.0H745.7 M756.0,700.0H772.7 M783.0,700.0H799.7 M810.0,700.0H826.7 M837.0,700.0H853.7 M864.0,700.0H880.7 M891.0,700.0H907.7 M918.0,700.0H934.7 M945.0,700.0H961.7 M972.0,700.0H988.7 M999.0,700.0H1015.7 M1026.0,700.0H1042.7 M1053.0,700.0H1069.7 M1080.0,700.0H1096.7 M1107.0,700.0H1118.0" stroke="#8FB032" stroke-width="3.2" fill="none"/>
<path d="M146.5,742.4H153.7 M164.0,742.4H180.7 M191.0,742.4H207.7 M218.0,742.4H234.7 M245.0,742.4H261.7 M272.0,742.4H288.7 M299.0,742.4H315.7 M326.0,742.4H342.7 M353.3,742.4H382.3 M393.3,742.4H409.8 M420.3,742.4H436.8 M447.3,742.4H463.8 M474.3,742.4H490.8 M501.3,742.4H517.8 M528.3,742.4H544.8 M555.3,742.4H571.8 M582.3,742.4H598.8 M609.3,742.4H625.8 M636.3,742.4H652.8 M663.3,742.4H679.8 M690.3,742.4H706.8 M717.0,742.4H745.7 M756.0,742.4H772.7 M783.0,742.4H799.7 M810.0,742.4H826.7 M837.0,742.4H853.7 M864.0,742.4H880.7 M891.0,742.4H907.7 M918.0,742.4H934.7 M945.0,742.4H961.7 M972.0,742.4H988.7 M999.0,742.4H1015.7 M1026.0,742.4H1042.7 M1053.0,742.4H1069.7 M1080.0,742.4H1096.7 M1107.0,742.4H1118.0" stroke="#EB6235" stroke-width="3.2" fill="none"/>
<path d="M146.5,763.2H153.7 M164.0,763.2H180.7 M191.0,763.2H207.7 M218.0,763.2H234.7 M245.0,763.2H261.7 M272.0,763.2H288.7 M299.0,763.2H315.7 M326.0,763.2H342.7 M353.3,763.2H382.3 M393.3,763.2H409.8 M420.3,763.2H436.8 M447.3,763.2H463.8 M474.3,763.2H490.8 M501.3,763.2H517.8 M528.3,763.2H544.8 M555.3,763.2H571.8 M582.3,763.2H598.8 M609.3,763.2H625.8 M636.3,763.2H652.8 M663.3,763.2H679.8 M690.3,763.2H706.8 M717.0,763.2H745.7 M756.0,763.2H772.7 M783.0,763.2H799.7 M810.0,763.2H826.7 M837.0,763.2H853.7 M864.0,763.2H880.7 M891.0,763.2H907.7 M918.0,763.2H934.7 M945.0,763.2H961.7 M972.0,763.2H988.7 M999.0,763.2H1015.7 M1026.0,763.2H1042.7 M1053.0,763.2H1069.7 M1080.0,763.2H1096.7 M1107.0,763.2H1118.0" stroke="#8778B3" stroke-width="3.2" fill="none"/>
<path d="M146.5,769.4H153.7 M164.0,769.4H180.7 M191.0,769.4H207.7 M218.0,769.4H234.7 M245.0,769.4H261.7 M272.0,769.4H288.7 M299.0,769.4H315.7 M326.0,769.4H342.7 M353.3,769.4H382.3 M393.3,769.4H409.8 M420.3,769.4H436.8 M447.3,769.4H463.8 M474.3,769.4H490.8 M501.3,769.4H517.8 M528.3,769.4H544.8 M555.3,769.4H571.8 M582.3,769.4H598.8 M609.3,769.4H625.8 M636.3,769.4H652.8 M663.3,769.4H679.8 M690.3,769.4H706.8 M717.0,769.4H745.7 M756.0,769.4H772.7 M783.0,769.4H799.7 M810.0,769.4H826.7 M837.0,769.4H853.7 M864.0,769.4H880.7 M891.0,769.4H907.7 M918.0,769.4H934.7 M945.0,769.4H961.7 M972.0,769.4H988.7 M999.0,769.4H1015.7 M1026.0,769.4H1042.7 M1053.0,769.4H1069.7 M1080.0,769.4H1096.7 M1107.0,769.4H1118.0" stroke="#C56E1A" stroke-width="3.2" fill="none"/>
<path d="M167.0,810.0V796.5 M204.3,810.0V802.0 M241.5,810.0V802.0 M278.8,810.0V802.0 M316.1,810.0V802.0 M353.3,810.0V796.5 M390.6,810.0V802.0 M427.8,810.0V802.0 M465.1,810.0V802.0 M502.4,810.0V802.0 M539.6,810.0V796.5 M576.9,810.0V802.0 M614.2,810.0V802.0 M651.4,810.0V802.0 M688.7,810.0V802.0 M726.0,810.0V796.5 M763.2,810.0V802.0 M800.5,810.0V802.0 M837.8,810.0V802.0 M875.0,810.0V802.0 M912.3,810.0V796.5 M949.5,810.0V802.0 M986.8,810.0V802.0 M1024.1,810.0V802.0 M1061.3,810.0V802.0 M1098.6,810.0V796.5" stroke="#000" stroke-width="1.6" fill="none"/>
<path d="M167.0,0.9V10.7 M204.3,0.9V8.7 M241.5,0.9V8.7 M278.8,0.9V8.7 M316.1,0.9V8.7 M353.3,0.9V10.7 M390.6,0.9V8.7 M427.8,0.9V8.7 M465.1,0.9V8.7 M502.4,0.9V8.7 M539.6,0.9V10.7 M576.9,0.9V8.7 M614.2,0.9V8.7 M651.4,0.9V8.7 M688.7,0.9V8.7 M726.0,0.9V10.7 M763.2,0.9V8.7 M800.5,0.9V8.7 M837.8,0.9V8.7 M875.0,0.9V8.7 M912.3,0.9V10.7 M949.5,0.9V8.7 M986.8,0.9V8.7 M1024.1,0.9V8.7 M1061.3,0.9V8.7 M1098.6,0.9V10.7" stroke="#222" stroke-width="0.7" fill="none"/>
<path d="M147.7,31.5h7.5 M1118.0,31.5h-7.5 M147.7,142.5h9.0 M1118.0,142.5h-9.0 M147.7,159.5h7.5 M1118.0,159.5h-7.5 M147.7,177.5h7.5 M1118.0,177.5h-7.5 M147.7,199.5h7.5 M1118.0,199.5h-7.5 M147.7,223.5h7.5 M1118.0,223.5h-7.5 M147.7,252.5h9.0 M1118.0,252.5h-9.0 M147.7,288.5h7.5 M1118.0,288.5h-7.5 M147.7,334.5h7.5 M1118.0,334.5h-7.5 M147.7,398.5h7.5 M1118.0,398.5h-7.5 M147.7,509.5h9.0 M1118.0,509.5h-9.0 M147.7,526.5h7.5 M1118.0,526.5h-7.5 M147.7,544.5h7.5 M1118.0,544.5h-7.5 M147.7,566.5h7.5 M1118.0,566.5h-7.5 M147.7,590.5h7.5 M1118.0,590.5h-7.5 M147.7,619.5h9.0 M1118.0,619.5h-9.0 M147.7,655.5h7.5 M1118.0,655.5h-7.5 M147.7,701.5h7.5 M1118.0,701.5h-7.5 M147.7,765.5h7.5 M1118.0,765.5h-7.5" stroke="#333" stroke-width="0.85" fill="none"/>
<rect x="147.7" y="0.9" width="970.3" height="809.1" fill="none" stroke="#000" stroke-width="2"/>
<g font-family="'Liberation Sans', Arial, Helvetica, sans-serif" font-size="40.2" fill="#000" stroke="#000" stroke-width="0.55" stroke-linejoin="round">
<text x="167.0" y="852" font-size="40.8" text-anchor="middle">0.5</text>
<text x="353.3" y="852" font-size="40.8" text-anchor="middle">0.6</text>
<text x="539.6" y="852" font-size="40.8" text-anchor="middle">0.7</text>
<text x="726.0" y="852" font-size="40.8" text-anchor="middle">0.8</text>
<text x="912.3" y="852" font-size="40.8" text-anchor="middle">0.9</text>
<text x="1098.6" y="852" font-size="40.8" text-anchor="middle">1.0</text>
<text x="137.9" y="153.8" font-size="40.6" text-anchor="end">1</text>
<text x="137.9" y="264.3" font-size="40.6" text-anchor="end">0.50</text>
<text x="137.9" y="520.9" font-size="40.6" text-anchor="end">0.10</text>
<text x="137.9" y="631.4" font-size="40.6" text-anchor="end">0.05</text>
<text x="632.4" y="912.2" text-anchor="middle">splitting ratio p</text>
<text transform="translate(28.8,405.6) rotate(-90)" text-anchor="middle">squeezing</text>
<path d="M206.4,300.4h67.8" stroke="#5E81B5" stroke-width="4.7" fill="none"/>
<text x="294.0" y="314.2">m=50</text>
<path d="M206.4,369.9h67.8" stroke="#E19C24" stroke-width="4.7" fill="none"/>
<text x="294.0" y="383.7">m=40</text>
<path d="M206.4,439.4h67.8" stroke="#8FB032" stroke-width="4.7" fill="none"/>
<text x="294.0" y="453.2">m=30</text>
<path d="M439.1,300.4h67.8" stroke="#EB6235" stroke-width="4.7" fill="none"/>
<text x="526.4" y="314.2">m=20</text>
<path d="M439.1,369.9h67.8" stroke="#8778B3" stroke-width="4.7" fill="none"/>
<text x="526.4" y="383.7">m=10</text>
<path d="M439.1,439.4h67.8" stroke="#C56E1A" stroke-width="4.7" fill="none"/>
<text x="526.4" y="453.2">m=0</text>
</g>
</svg>
</body></html>
